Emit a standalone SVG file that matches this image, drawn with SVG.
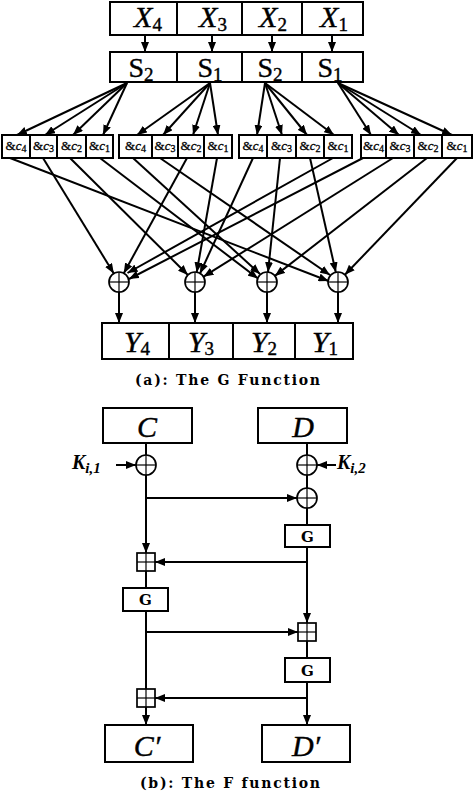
<svg xmlns="http://www.w3.org/2000/svg" width="474" height="793" viewBox="0 0 474 793">
<style>
.bx{fill:#fff;stroke:#000;stroke-width:2}
.ln{stroke:#000;stroke-width:2;fill:none}
.ar{stroke:#000;stroke-width:2;fill:none;marker-end:url(#ah)}
.xc{fill:#fff;stroke:#000;stroke-width:1.7}
.xl{stroke:#000;stroke-width:1.2}
.m{font-family:"Liberation Serif",serif;font-style:italic;font-size:30px;text-anchor:middle;stroke:#000;stroke-width:0.4}
.s{font-family:"Liberation Serif",serif;font-size:28px;text-anchor:middle;stroke:#000;stroke-width:0.4}
.sub{font-style:normal;font-size:19px}
.c{font-family:"Liberation Serif",serif;font-size:13px;text-anchor:middle;stroke:#000;stroke-width:0.3}
.g{font-family:"DejaVu Serif",serif;font-weight:bold;font-size:15px;text-anchor:middle}
.cap{font-family:"DejaVu Serif",serif;font-weight:bold;font-size:14px}
.k{font-family:"Liberation Serif",serif;font-weight:bold;font-style:italic;font-size:20px}
</style>
<defs>
<marker id="ah" markerUnits="userSpaceOnUse" markerWidth="10" markerHeight="8" refX="10" refY="4" orient="auto">
<path d="M0,0 L10,4 L0,8 z" fill="#000"/>
</marker>
<g id="xor"><circle r="10" class="xc"/><line x1="-10" y1="0" x2="10" y2="0" class="xl"/><line x1="0" y1="-10" x2="0" y2="10" class="xl"/></g>
<g id="add"><rect x="-9" y="-9" width="18" height="18" class="xc"/><line x1="-9" y1="0" x2="9" y2="0" class="xl"/><line x1="0" y1="-9" x2="0" y2="9" class="xl"/></g>
</defs>
<rect width="474" height="793" fill="#fff"/>

<g id="connectors">
<line x1="145" y1="35" x2="145" y2="52" class="ar"/>
<line x1="212" y1="35" x2="212" y2="52" class="ar"/>
<line x1="272" y1="35" x2="272" y2="52" class="ar"/>
<line x1="332" y1="35" x2="332" y2="52" class="ar"/>
<line x1="127" y1="83" x2="17" y2="135" class="ar"/>
<line x1="127" y1="83" x2="45" y2="135" class="ar"/>
<line x1="127" y1="83" x2="73" y2="135" class="ar"/>
<line x1="127" y1="83" x2="103" y2="135" class="ar"/>
<line x1="210" y1="83" x2="137" y2="135" class="ar"/>
<line x1="210" y1="83" x2="163" y2="135" class="ar"/>
<line x1="210" y1="83" x2="193" y2="135" class="ar"/>
<line x1="210" y1="83" x2="218" y2="135" class="ar"/>
<line x1="265" y1="83" x2="257" y2="135" class="ar"/>
<line x1="265" y1="83" x2="282" y2="135" class="ar"/>
<line x1="265" y1="83" x2="307" y2="135" class="ar"/>
<line x1="265" y1="83" x2="334" y2="135" class="ar"/>
<line x1="338" y1="83" x2="371" y2="135" class="ar"/>
<line x1="338" y1="83" x2="399" y2="135" class="ar"/>
<line x1="338" y1="83" x2="421" y2="135" class="ar"/>
<line x1="338" y1="83" x2="452" y2="135" class="ar"/>
<line x1="10" y1="158" x2="328.5" y2="281" class="ar"/>
<line x1="43" y1="158" x2="113.8" y2="273.5" class="ar"/>
<line x1="70" y1="158" x2="187.9" y2="275" class="ar"/>
<line x1="100" y1="158" x2="258" y2="278.5" class="ar"/>
<line x1="133" y1="158" x2="260" y2="274" class="ar"/>
<line x1="160" y1="158" x2="330" y2="275" class="ar"/>
<line x1="187" y1="158" x2="123.8" y2="273.2" class="ar"/>
<line x1="217" y1="158" x2="196.7" y2="272.2" class="ar"/>
<line x1="253" y1="158" x2="200" y2="273.5" class="ar"/>
<line x1="280" y1="158" x2="268" y2="272.1" class="ar"/>
<line x1="310" y1="158" x2="335.8" y2="272.2" class="ar"/>
<line x1="333" y1="158" x2="127.5" y2="273" class="ar"/>
<line x1="363" y1="158" x2="129" y2="279" class="ar"/>
<line x1="393" y1="158" x2="203.5" y2="276.7" class="ar"/>
<line x1="427" y1="158" x2="274.9" y2="275.9" class="ar"/>
<line x1="457" y1="158" x2="344.9" y2="274.8" class="ar"/>
<line x1="119" y1="292" x2="119" y2="323" class="ar"/>
<line x1="195" y1="292" x2="195" y2="323" class="ar"/>
<line x1="267" y1="292" x2="267" y2="323" class="ar"/>
<line x1="338" y1="292" x2="338" y2="323" class="ar"/>

<line x1="146" y1="443" x2="146" y2="553" class="ar"/>
<line x1="116" y1="465" x2="136" y2="465" class="ar"/>
<line x1="307" y1="443" x2="307" y2="525" class="ln"/>
<line x1="336" y1="465" x2="317" y2="465" class="ar"/>
<line x1="146" y1="498" x2="297" y2="498" class="ar"/>
<line x1="307" y1="547" x2="307" y2="623" class="ar"/>
<line x1="307" y1="562" x2="155" y2="562" class="ar"/>
<line x1="146" y1="571" x2="146" y2="588" class="ln"/>
<line x1="146" y1="611" x2="146" y2="689" class="ln"/>
<line x1="146" y1="632" x2="298" y2="632" class="ar"/>
<line x1="307" y1="641" x2="307" y2="658" class="ln"/>
<line x1="307" y1="682" x2="307" y2="725" class="ar"/>
<line x1="307" y1="698" x2="155" y2="698" class="ar"/>
<line x1="146" y1="707" x2="146" y2="725" class="ar"/>
</g>

<g id="x-row">
<rect x="110" y="2" width="253" height="33" class="bx"/>
<line x1="177" y1="2" x2="177" y2="35" class="ln"/>
<line x1="242" y1="2" x2="242" y2="35" class="ln"/>
<line x1="302" y1="2" x2="302" y2="35" class="ln"/>
<text x="148" y="27" class="m">X<tspan class="sub" dy="4">4</tspan></text>
<text x="213" y="27" class="m">X<tspan class="sub" dy="4">3</tspan></text>
<text x="273" y="27" class="m">X<tspan class="sub" dy="4">2</tspan></text>
<text x="334" y="27" class="m">X<tspan class="sub" dy="4">1</tspan></text>
</g>

<g id="s-row">
<rect x="110" y="52" width="253" height="30" class="bx"/>
<line x1="177" y1="52" x2="177" y2="82" class="ln"/>
<line x1="242" y1="52" x2="242" y2="82" class="ln"/>
<line x1="302" y1="52" x2="302" y2="82" class="ln"/>
<text x="141" y="77" class="s">S<tspan class="sub" dy="4">2</tspan></text>
<text x="210" y="77" class="s">S<tspan class="sub" dy="4">1</tspan></text>
<text x="270" y="77" class="s">S<tspan class="sub" dy="4">2</tspan></text>
<text x="330" y="77" class="s">S<tspan class="sub" dy="4">1</tspan></text>
</g>

<g id="c-group1">
<rect x="2" y="135" width="111" height="23" class="bx"/>
<line x1="30" y1="135" x2="30" y2="158" class="ln"/>
<line x1="57" y1="135" x2="57" y2="158" class="ln"/>
<line x1="86" y1="135" x2="86" y2="158" class="ln"/>
<text x="16" y="150" class="c">&amp;<tspan font-style="italic">c</tspan><tspan font-size="10" dy="2">4</tspan></text>
<text x="43.5" y="150" class="c">&amp;<tspan font-style="italic">c</tspan><tspan font-size="10" dy="2">3</tspan></text>
<text x="71.5" y="150" class="c">&amp;<tspan font-style="italic">c</tspan><tspan font-size="10" dy="2">2</tspan></text>
<text x="99.5" y="150" class="c">&amp;<tspan font-style="italic">c</tspan><tspan font-size="10" dy="2">1</tspan></text>
</g>
<g id="c-group2">
<rect x="119" y="135" width="113" height="23" class="bx"/>
<line x1="152" y1="135" x2="152" y2="158" class="ln"/>
<line x1="178" y1="135" x2="178" y2="158" class="ln"/>
<line x1="204" y1="135" x2="204" y2="158" class="ln"/>
<text x="135.5" y="150" class="c">&amp;<tspan font-style="italic">c</tspan><tspan font-size="10" dy="2">4</tspan></text>
<text x="165" y="150" class="c">&amp;<tspan font-style="italic">c</tspan><tspan font-size="10" dy="2">3</tspan></text>
<text x="191" y="150" class="c">&amp;<tspan font-style="italic">c</tspan><tspan font-size="10" dy="2">2</tspan></text>
<text x="218" y="150" class="c">&amp;<tspan font-style="italic">c</tspan><tspan font-size="10" dy="2">1</tspan></text>
</g>
<g id="c-group3">
<rect x="239" y="135" width="113" height="23" class="bx"/>
<line x1="267" y1="135" x2="267" y2="158" class="ln"/>
<line x1="296" y1="135" x2="296" y2="158" class="ln"/>
<line x1="324" y1="135" x2="324" y2="158" class="ln"/>
<text x="253" y="150" class="c">&amp;<tspan font-style="italic">c</tspan><tspan font-size="10" dy="2">4</tspan></text>
<text x="281.5" y="150" class="c">&amp;<tspan font-style="italic">c</tspan><tspan font-size="10" dy="2">3</tspan></text>
<text x="310" y="150" class="c">&amp;<tspan font-style="italic">c</tspan><tspan font-size="10" dy="2">2</tspan></text>
<text x="338" y="150" class="c">&amp;<tspan font-style="italic">c</tspan><tspan font-size="10" dy="2">1</tspan></text>
</g>
<g id="c-group4">
<rect x="361" y="135" width="111" height="23" class="bx"/>
<line x1="386" y1="135" x2="386" y2="158" class="ln"/>
<line x1="414" y1="135" x2="414" y2="158" class="ln"/>
<line x1="442" y1="135" x2="442" y2="158" class="ln"/>
<text x="373.5" y="150" class="c">&amp;<tspan font-style="italic">c</tspan><tspan font-size="10" dy="2">4</tspan></text>
<text x="400" y="150" class="c">&amp;<tspan font-style="italic">c</tspan><tspan font-size="10" dy="2">3</tspan></text>
<text x="428" y="150" class="c">&amp;<tspan font-style="italic">c</tspan><tspan font-size="10" dy="2">2</tspan></text>
<text x="457" y="150" class="c">&amp;<tspan font-style="italic">c</tspan><tspan font-size="10" dy="2">1</tspan></text>
</g>

<g id="xor1"><use href="#xor" x="119" y="282"/></g>
<g id="xor2"><use href="#xor" x="195" y="282"/></g>
<g id="xor3"><use href="#xor" x="267" y="282"/></g>
<g id="xor4"><use href="#xor" x="338" y="282"/></g>

<g id="y-row">
<rect x="102" y="323" width="251" height="36" class="bx"/>
<line x1="169" y1="323" x2="169" y2="359" class="ln"/>
<line x1="233" y1="323" x2="233" y2="359" class="ln"/>
<line x1="295" y1="323" x2="295" y2="359" class="ln"/>
<text x="137" y="352" class="m">Y<tspan class="sub" dy="3">4</tspan></text>
<text x="201" y="352" class="m">Y<tspan class="sub" dy="3">3</tspan></text>
<text x="264" y="352" class="m">Y<tspan class="sub" dy="3">2</tspan></text>
<text x="325" y="352" class="m">Y<tspan class="sub" dy="3">1</tspan></text>
</g>

<text id="caption-a" x="135" y="385" class="cap" textLength="185">(a): The G Function</text>

<g id="C"><rect x="103" y="408" width="89" height="35" class="bx"/><text x="147" y="437" class="m" font-size="32">C</text></g>
<g id="D"><rect x="258" y="408" width="89" height="35" class="bx"/><text x="303" y="437" class="m" font-size="32">D</text></g>
<g id="xorK1"><use href="#xor" x="146" y="465"/></g>
<g id="K1"><text x="72" y="469" class="k">K<tspan font-size="15" dy="4">i,1</tspan></text></g>
<g id="xorK2"><use href="#xor" x="307" y="465"/></g>
<g id="K2"><text x="337" y="469" class="k">K<tspan font-size="15" dy="4">i,2</tspan></text></g>
<g id="xorCD"><use href="#xor" x="307" y="498"/></g>
<g id="G1"><rect x="285" y="525" width="45" height="22" class="bx"/><text x="307.5" y="542" class="g">G</text></g>
<g id="add1"><use href="#add" x="146" y="562"/></g>
<g id="G2"><rect x="123" y="588" width="45" height="23" class="bx"/><text x="145.5" y="605" class="g">G</text></g>
<g id="add2"><use href="#add" x="307" y="632"/></g>
<g id="G3"><rect x="285" y="658" width="45" height="24" class="bx"/><text x="307.5" y="676" class="g">G</text></g>
<g id="add3"><use href="#add" x="146" y="698"/></g>
<g id="Cp"><rect x="105" y="725" width="88" height="37" class="bx"/><text x="147" y="756" class="m" font-size="32">C′</text></g>
<g id="Dp"><rect x="262" y="725" width="88" height="37" class="bx"/><text x="306" y="756" class="m" font-size="32">D′</text></g>

<text id="caption-b" x="140" y="788" class="cap" textLength="180">(b): The F function</text>
</svg>
